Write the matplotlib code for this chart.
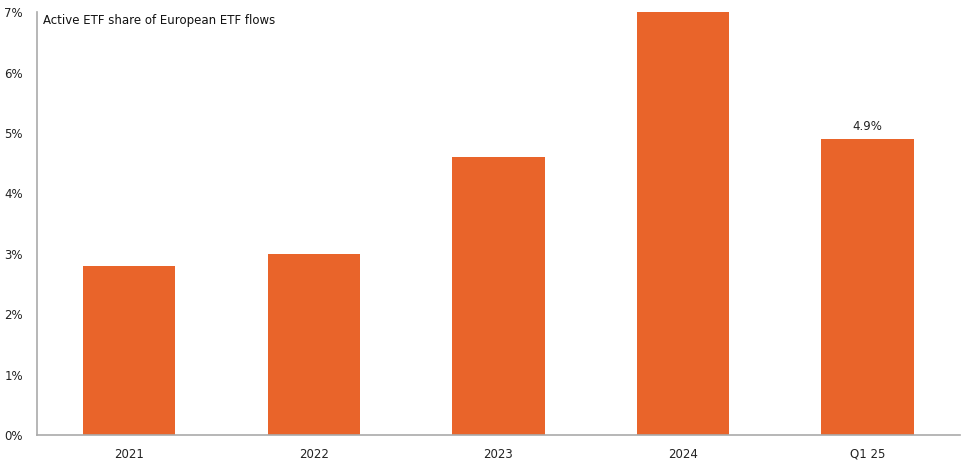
import matplotlib.pyplot as plt
from matplotlib.ticker import PercentFormatter

categories = ['2021', '2022', '2023', '2024', 'Q1 25']
share = [2.8, 3.0, 4.6, 7.0, 4.9]
yticks = [0, 1, 2, 3, 4, 5, 6, 7]

plt.rcParams['font.family'] = ['DejaVu Sans']
fig = plt.figure(figsize=(9.74, 4.65), dpi=100)
ax = fig.add_axes([0.038, 0.0645, 0.9475, 0.9095])

x = range(len(categories))
ax.bar(x, share, width=0.5, color='#E9642A')
ax.set_xlim(-0.5, len(categories) - 0.5)
ax.set_ylim(0, 7)
ax.set_yticks(yticks)
ax.yaxis.set_major_formatter(PercentFormatter(decimals=0))
ax.set_xticks(list(x))
ax.set_xticklabels(categories)
ax.tick_params(length=0, labelsize=8.5, colors='#222222')
ax.tick_params(axis='x', pad=9)
ax.tick_params(axis='y', pad=10)

for s in ['top', 'right']:
    ax.spines[s].set_visible(False)
for s in ['left', 'bottom']:
    ax.spines[s].set_color('#aaaaaa')
    ax.spines[s].set_linewidth(1.2)

ax.text(4, share[4] + 0.1, '4.9%', ha='center', va='bottom', fontsize=8.5, color='#222222')
ax.text(0.006, 0.995, 'Active ETF share of European ETF flows', transform=ax.transAxes,
        ha='left', va='top', fontsize=8.5, color='#111111')

fig.savefig('out.png')
